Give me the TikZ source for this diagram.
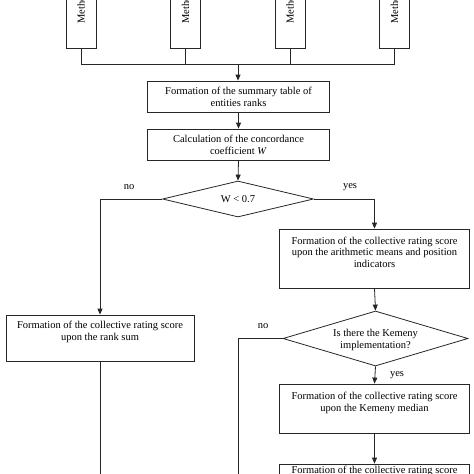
\documentclass[tikz,border=0pt]{standalone}
\usepackage{fontspec}
\setmainfont{Liberation Serif}
\usetikzlibrary{arrows.meta,shapes.geometric}
\begin{document}
\begin{tikzpicture}[x=1pt,y=-1pt,
  font=\fontsize{10.5}{11.5}\selectfont,
  line width=0.8pt,
  ln/.style={draw=black!85},
  rbox/.style={draw=black!85, rectangle, inner sep=0pt},
  dbox/.style={draw=black!85, diamond, inner sep=0pt},
  txt/.style={align=center, inner sep=0pt},
  arr/.style={ln, -{Triangle[length=6pt,width=5pt]}}]
\useasboundingbox (0,0) rectangle (474,474);
\clip (0,0) rectangle (474,474);
% method boxes
\foreach \n/\x in {1/81,2/185.5,3/290,4/394.5}{
  \node[rbox, minimum width=30pt, minimum height=68pt] (m\n) at (\x,14) {};
  \node[txt, rotate=90, anchor=west] (mt\n) at (\x,24) {Method};
}
\coordinate (jn) at (238,64);
\draw[ln] (m1.south) |- (m4.south |- jn);
\draw[ln] (m2.south) -- (m2.south |- jn);
\draw[ln] (m3.south) -- (m3.south |- jn);
\draw[ln] (m4.south) -- (m4.south |- jn);
% central column
\node[rbox, minimum width=182pt, minimum height=31pt] (b1) at (238.5,96.5) {};
\node[txt] (b1t) at (238.5,97) {Formation of the summary table of\\entities ranks};
\node[rbox, minimum width=182pt, minimum height=31pt] (b2) at (238.5,144.5) {};
\node[txt] (b2t) at (238.5,145) {Calculation of the concordance\\coefficient \textit{W}};
\node[dbox, minimum width=151pt, minimum height=36pt] (d1) at (238,199) {};
\node[txt] (d1t) at (238,199) {W < 0.7};
\draw[arr] (jn) -- (jn |- b1.north);
\draw[arr] (b1.south) -- (b2.north);
\draw[arr] (b2.south) -- (d1.north);
% left branch
\node[rbox, minimum width=188pt, minimum height=46pt] (rb) at (100,338) {};
\node[txt] (rbt) at (100,332) {Formation of the collective rating score\\upon the rank sum};
\draw[arr] (d1.west) -| (rb.north);
\coordinate (e1) at (100,480);
\draw[ln] (rb.south) -- (e1);
\node[txt] (no1) at (129,187) {no};
\node[txt] (yes1) at (350,187) {yes};
% right branch
\node[rbox, minimum width=190pt, minimum height=59pt] (ab) at (374.5,258.5) {};
\node[txt] (abt) at (374.5,252) {Formation of the collective rating score\\upon the arithmetic means and position\\indicators};
\draw[arr] (d1.east) -| (ab.north);
\node[dbox, minimum width=185pt, minimum height=55pt] (d2) at (375.5,338.5) {};
\node[txt] (d2t) at (375.5,340) {Is there the Kemeny\\implementation?};
\draw[arr] (ab.south) -- (d2.north);
\node[txt] (no2) at (263,326) {no};
\coordinate (e2) at (238,480);
\draw[ln] (d2.west) -| (e2);
\node[txt] (yes2) at (397,375) {yes};
\node[rbox, minimum width=190pt, minimum height=49pt] (kb) at (374.5,408.5) {};
\node[txt] (kbt) at (374.5,403) {Formation of the collective rating score\\upon the Kemeny median};
\draw[arr] (d2.south) -- (kb.north);
\node[rbox, minimum width=190pt, minimum height=60pt] (lb) at (374.5,494) {};
\node[txt] (lbt) at (374.5,470.5) {Formation of the collective rating score};
\draw[arr] (kb.south) -- (lb.north);
\end{tikzpicture}
\end{document}
